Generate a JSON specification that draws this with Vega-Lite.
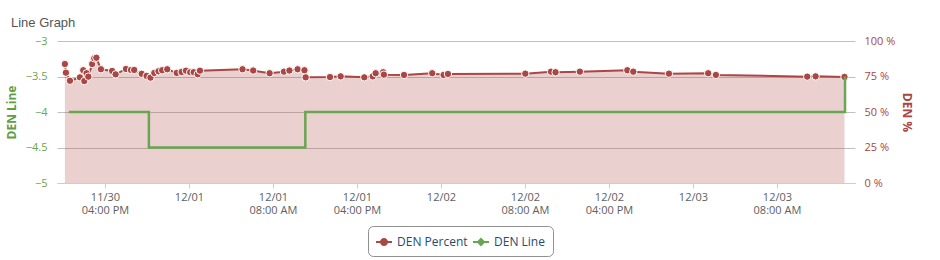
{
  "$schema": "https://vega.github.io/schema/vega-lite/v6.json",
  "autosize": {"type": "none"},
  "width": 798,
  "height": 142,
  "padding": {"left": 57, "top": 41, "right": 85, "bottom": 77},
  "background": "#ffffff",
  "title": {
    "text": "Line Graph",
    "anchor": "start",
    "frame": "group",
    "font": "Liberation Sans",
    "fontSize": 13,
    "fontWeight": "normal",
    "color": "#555555",
    "baseline": "alphabetic",
    "offset": 12,
    "dx": -46,
    "dy": 17
  },
  "config": {
    "view": {"stroke": null},
    "font": "Open Sans"
  },
  "datasets": {
    "pct": [
      {"t": "2013-11-30T12:11:00Z", "pct": 83.8},
      {"t": "2013-11-30T12:17:00Z", "pct": 77.7},
      {"t": "2013-11-30T12:40:00Z", "pct": 72.0},
      {"t": "2013-11-30T13:37:00Z", "pct": 74.4},
      {"t": "2013-11-30T13:56:00Z", "pct": 79.4},
      {"t": "2013-11-30T14:02:00Z", "pct": 71.8},
      {"t": "2013-11-30T14:15:00Z", "pct": 77.3},
      {"t": "2013-11-30T14:25:00Z", "pct": 74.9},
      {"t": "2013-11-30T14:47:00Z", "pct": 83.8},
      {"t": "2013-11-30T14:59:00Z", "pct": 87.8},
      {"t": "2013-11-30T15:11:00Z", "pct": 88.2},
      {"t": "2013-11-30T15:37:00Z", "pct": 80.1},
      {"t": "2013-11-30T16:41:00Z", "pct": 78.9},
      {"t": "2013-11-30T17:01:00Z", "pct": 76.5},
      {"t": "2013-11-30T18:00:00Z", "pct": 80.3},
      {"t": "2013-11-30T18:29:00Z", "pct": 79.6},
      {"t": "2013-11-30T18:47:00Z", "pct": 79.6},
      {"t": "2013-11-30T19:30:00Z", "pct": 76.9},
      {"t": "2013-11-30T19:58:00Z", "pct": 75.4},
      {"t": "2013-11-30T20:20:00Z", "pct": 74.2},
      {"t": "2013-11-30T20:42:00Z", "pct": 77.5},
      {"t": "2013-11-30T21:06:00Z", "pct": 78.7},
      {"t": "2013-11-30T21:27:00Z", "pct": 79.4},
      {"t": "2013-11-30T21:56:00Z", "pct": 80.1},
      {"t": "2013-11-30T22:50:00Z", "pct": 77.5},
      {"t": "2013-11-30T23:18:00Z", "pct": 78.2},
      {"t": "2013-11-30T23:43:00Z", "pct": 79.1},
      {"t": "2013-12-01T00:07:00Z", "pct": 78.0},
      {"t": "2013-12-01T00:27:00Z", "pct": 78.0},
      {"t": "2013-12-01T00:50:00Z", "pct": 76.6},
      {"t": "2013-12-01T01:03:00Z", "pct": 79.1},
      {"t": "2013-12-01T05:06:00Z", "pct": 80.1},
      {"t": "2013-12-01T06:07:00Z", "pct": 79.2},
      {"t": "2013-12-01T07:41:00Z", "pct": 77.3},
      {"t": "2013-12-01T09:03:00Z", "pct": 78.4},
      {"t": "2013-12-01T09:34:00Z", "pct": 79.2},
      {"t": "2013-12-01T10:21:00Z", "pct": 80.1},
      {"t": "2013-12-01T11:00:00Z", "pct": 79.4},
      {"t": "2013-12-01T11:07:00Z", "pct": 74.4},
      {"t": "2013-12-01T13:26:00Z", "pct": 74.6},
      {"t": "2013-12-01T14:27:00Z", "pct": 75.1},
      {"t": "2013-12-01T16:42:00Z", "pct": 74.4},
      {"t": "2013-12-01T17:30:00Z", "pct": 75.1},
      {"t": "2013-12-01T17:47:00Z", "pct": 77.3},
      {"t": "2013-12-01T18:30:00Z", "pct": 78.0},
      {"t": "2013-12-01T18:34:00Z", "pct": 76.3},
      {"t": "2013-12-01T20:29:00Z", "pct": 76.1},
      {"t": "2013-12-01T23:10:00Z", "pct": 77.3},
      {"t": "2013-12-02T00:15:00Z", "pct": 76.1},
      {"t": "2013-12-02T00:40:00Z", "pct": 76.8},
      {"t": "2013-12-02T08:02:00Z", "pct": 77.0},
      {"t": "2013-12-02T10:29:00Z", "pct": 78.4},
      {"t": "2013-12-02T10:55:00Z", "pct": 78.0},
      {"t": "2013-12-02T13:14:00Z", "pct": 78.4},
      {"t": "2013-12-02T17:45:00Z", "pct": 79.4},
      {"t": "2013-12-02T18:19:00Z", "pct": 78.4},
      {"t": "2013-12-02T21:43:00Z", "pct": 77.0},
      {"t": "2013-12-03T01:27:00Z", "pct": 77.3},
      {"t": "2013-12-03T02:11:00Z", "pct": 76.1},
      {"t": "2013-12-03T10:53:00Z", "pct": 74.9},
      {"t": "2013-12-03T11:41:00Z", "pct": 75.1},
      {"t": "2013-12-03T14:26:00Z", "pct": 74.7}
    ],
    "line": [
      {"t": "2013-11-30T12:34:00Z", "v": -4},
      {"t": "2013-11-30T20:11:00Z", "v": -4.5},
      {"t": "2013-12-01T11:05:00Z", "v": -4},
      {"t": "2013-12-03T14:29:00Z", "v": -3.5}
    ]
  },
  "encoding": {
    "x": {
      "field": "t",
      "type": "temporal",
      "scale": {
        "type": "utc",
        "domain": [1385810760000, 1386084360000]
      },
      "axis": {
        "title": null,
        "grid": false,
        "values": [1385827200000, 1385856000000, 1385884800000, 1385913600000, 1385942400000, 1385971200000, 1386000000000, 1386028800000, 1386057600000],
        "labelExpr": "utchours(datum.value) == 0 ? utcFormat(datum.value, '%m/%d') : [utcFormat(datum.value, '%m/%d'), utcFormat(datum.value, '%I:%M %p')]",
        "labelFont": "Open Sans",
        "labelFontSize": 11,
        "labelColor": "#606060",
        "labelLineHeight": 13.5,
        "labelBaseline": "top",
        "labelPadding": 3,
        "labelFlush": false,
        "labelOverlap": false,
        "domainColor": "#c0d0e0",
        "tickColor": "#c0d0e0",
        "tickSize": 5
      }
    }
  },
  "layer": [
    {
      "data": {"name": "pct"},
      "encoding": {
        "y": {
          "field": "pct",
          "type": "quantitative",
          "scale": {"domain": [0, 100], "nice": false, "zero": false},
          "axis": {
            "orient": "right",
            "title": "DEN %",
            "titleColor": "#aa4643",
            "titleFont": "Open Sans",
            "titleFontSize": 12,
            "titleFontWeight": "bold",
            "titlePadding": 5,
            "values": [0, 25, 50, 75, 100],
            "labelExpr": "datum.value + ' %'",
            "labelFont": "Open Sans",
            "labelFontSize": 11,
            "labelColor": "#aa4643",
            "labelPadding": 9,
            "ticks": false,
            "domain": false,
            "grid": false
          }
        }
      },
      "layer": [
        {
          "mark": {"type": "area", "color": "#aa4643", "opacity": 0.25},
          "encoding": {}
        },
        {
          "mark": {"type": "line", "strokeWidth": 2},
          "encoding": {
            "color": {
              "datum": "DEN Percent",
              "type": "nominal",
              "scale": {"domain": ["DEN Percent", "DEN Line"], "range": ["#aa4643", "#6aa552"]},
              "legend": {
                "orient": "none",
                "legendX": 311,
                "legendY": 185,
                "direction": "horizontal",
                "title": null,
                "strokeColor": "#909090",
                "cornerRadius": 5,
                "padding": 8,
                "fillColor": "#ffffff",
                "labelFont": "Open Sans",
                "labelFontSize": 12,
                "labelColor": "#274b6d",
                "labelOffset": 5,
                "columnPadding": 5,
                "symbolSize": 256,
                "symbolType": "M-1,-0.125H1V0.125H-1Z",
                "encode": {
                  "symbols": {
                    "update": {
                      "shape": {"signal": "datum.value === 'DEN Percent' ? 'M-1,-0.125H1V0.125H-1Z M0.5,0A0.5,0.5 0 1,1 -0.5,0A0.5,0.5 0 1,1 0.5,0Z' : 'M-1,-0.125H1V0.125H-1Z M0,-0.55L0.55,0L0,0.55L-0.55,0Z'"},
                      "fill": {"signal": "datum.value === 'DEN Percent' ? '#aa4643' : '#6aa552'"},
                      "fillOpacity": {"value": 1},
                      "strokeWidth": {"value": 0}
                    }
                  }
                }
              }
            }
          }
        },
        {
          "mark": {"type": "point", "filled": true, "size": 55, "stroke": "#ffffff", "strokeWidth": 1, "opacity": 1, "fill": "#aa4643"},
          "encoding": {}
        }
      ]
    },
    {
      "data": {"name": "line"},
      "mark": {"type": "line", "interpolate": "step-after", "strokeWidth": 2.5},
      "encoding": {
        "y": {
          "field": "v",
          "type": "quantitative",
          "scale": {"domain": [-5, -3], "nice": false, "zero": false},
          "axis": {
            "orient": "left",
            "title": "DEN Line",
            "titleColor": "#5f9e45",
            "titleFont": "Open Sans",
            "titleFontSize": 12,
            "titleFontWeight": "bold",
            "titlePadding": 7,
            "values": [-5, -4.5, -4, -3.5, -3],
            "format": ".2~f",
            "labelFont": "Open Sans",
            "labelFontSize": 11,
            "labelColor": "#6aa552",
            "labelPadding": 10,
            "ticks": false,
            "domain": false,
            "grid": true,
            "gridColor": "#c0c0c0",
            "gridWidth": 1
          }
        },
        "color": {"datum": "DEN Line", "type": "nominal"}
      }
    }
  ],
  "resolve": {"scale": {"y": "independent"}}
}
